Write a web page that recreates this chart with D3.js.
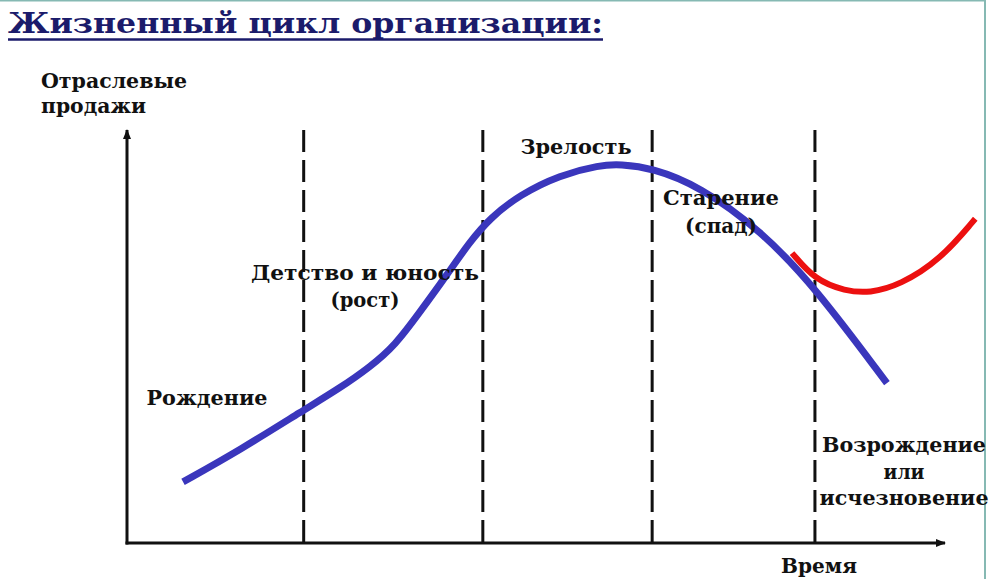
<!DOCTYPE html>
<html>
<head>
<meta charset="utf-8">
<script src="https://cdn.jsdelivr.net/npm/d3@7"></script>
<style>
  html, body { margin: 0; padding: 0; background: #ffffff; }
  svg { display: block; }
</style>
</head>
<body>
<svg id="chart" width="991" height="579"></svg>
<script>
// ---- data ----
const chartTitle = "Жизненный цикл организации:";
const yAxisTitle = ["Отраслевые", "продажи"];
const xAxisTitle = "Время";
const stageBounds = [21.6, 43.5, 64.2, 84.1];
const stageNames = [["Рождение"], ["Детство и юность", "(рост)"], ["Зрелость"], ["Старение", "(спад)"], ["Возрождение", "или", "исчезновение"]];
const lifeTime  = [6.85, 13.8, 21.6, 26.0, 29.7, 32.8, 35.8, 39.1, 41.9, 44.4, 48.0, 52.9, 57.8, 60.3, 64.2, 70.0, 77.4, 84.1, 92.9];
const lifeSales = [14.8, 22.5, 32.2, 37.5, 42.6, 47.9, 55.9, 64.9, 72.9, 78.7, 84.3, 89.1, 91.5, 91.7, 90.8, 86.4, 75.8, 62.0, 38.7];
const revivalTime  = [81.3, 84.1, 87.8, 90.8, 94.5, 99.4, 103.7];
const revivalSales = [70.2, 63.7, 61.0, 60.5, 62.5, 68.5, 78.5];

// ---- layout ----
const svg = d3.select("#chart");
const x = d3.scaleLinear().domain([0, 100]).range([127, 945]);
const y = d3.scaleLinear().domain([0, 100]).range([543, 130]);
const font = "'DejaVu Serif', 'Liberation Serif', serif";

// frame border
svg.append("line").attr("x1", 0).attr("x2", 986).attr("y1", 0.5).attr("y2", 0.5)
  .attr("stroke", "#86b9b3").attr("stroke-width", 2);
svg.append("line").attr("x1", 985).attr("x2", 985).attr("y1", 0).attr("y2", 579)
  .attr("stroke", "#86b9b3").attr("stroke-width", 2);

// title
svg.append("text").text(chartTitle)
  .attr("x", 8).attr("y", 33)
  .attr("font-family", font).attr("font-weight", "bold").attr("font-size", 28)
  .attr("fill", "#1b1b6b")
  .attr("textLength", 595).attr("lengthAdjust", "spacingAndGlyphs");
svg.append("line").attr("x1", 8).attr("x2", 603).attr("y1", 39.5).attr("y2", 39.5)
  .attr("stroke", "#1b1b6b").attr("stroke-width", 2.5);

// stage dividers
svg.selectAll("line.stage").data(stageBounds).join("line")
  .attr("class", "stage")
  .attr("x1", d => x(d)).attr("x2", d => x(d))
  .attr("y1", y(100)).attr("y2", y(0))
  .attr("stroke", "#111").attr("stroke-width", 3)
  .attr("stroke-dasharray", "22,8");

// axes (arrows)
const defs = svg.append("defs");
defs.append("marker").attr("id", "arrow")
  .attr("viewBox", "0 0 10 8").attr("refX", 9).attr("refY", 4)
  .attr("markerWidth", 10).attr("markerHeight", 8).attr("markerUnits", "userSpaceOnUse")
  .attr("orient", "auto")
  .append("path").attr("d", "M0,0 L10,4 L0,8 Z").attr("fill", "#111");

svg.append("line").attr("x1", x(0)).attr("x2", x(0)).attr("y1", y(0) + 1.5).attr("y2", y(100))
  .attr("stroke", "#111").attr("stroke-width", 3).attr("marker-end", "url(#arrow)");
svg.append("line").attr("x1", x(0) - 1.5).attr("x2", x(100)).attr("y1", y(0)).attr("y2", y(0))
  .attr("stroke", "#111").attr("stroke-width", 3).attr("marker-end", "url(#arrow)");

// curves
const line = d3.line().x(d => x(d[0])).y(d => y(d[1])).curve(d3.curveBasis);
svg.append("path")
  .attr("d", line(d3.zip(revivalTime, revivalSales)))
  .attr("fill", "none").attr("stroke", "#ec1010").attr("stroke-width", 6);
svg.append("path")
  .attr("d", line(d3.zip(lifeTime, lifeSales)))
  .attr("fill", "none").attr("stroke", "#3a36bc").attr("stroke-width", 7);

// labels
function label(lines, xPos, baseline, widths, step, anchor) {
  lines.forEach((t, i) => {
    svg.append("text").text(t)
      .attr("x", xPos).attr("y", baseline + i * step)
      .attr("text-anchor", anchor || "middle")
      .attr("font-family", font).attr("font-weight", "bold").attr("font-size", 20)
      .attr("fill", "#111")
      .attr("textLength", widths[i]).attr("lengthAdjust", "spacingAndGlyphs");
  });
}

label(yAxisTitle, 41, 88, [146, 105], 25, "start");
label(stageNames[0], 207, 405, [121], 26);
label(stageNames[1], 365, 280, [228, 69], 27);
label(stageNames[2], 576, 154, [111], 26);
label(stageNames[3], 721, 205, [116, 72], 28);
label(stageNames[4], 904, 452, [164, 41, 169], 26.5);
label([xAxisTitle], 819, 573, [76], 26);
</script>
</body>
</html>
